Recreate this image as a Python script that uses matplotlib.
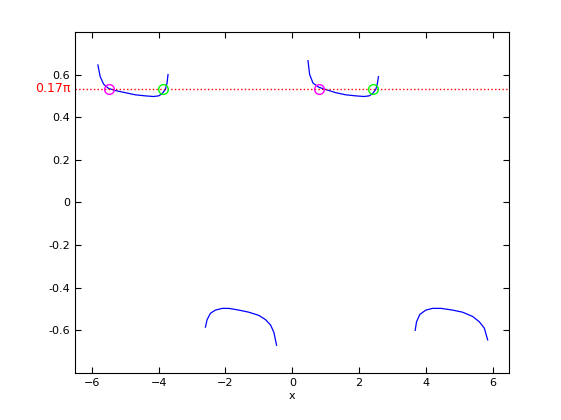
import numpy as np
import matplotlib.pyplot as plt

# curve branches
xa = [-5.82, -5.75, -5.65, -5.5, -5.3, -5.0, -4.7, -4.4, -4.15, -4.0, -3.9, -3.8, -3.75, -3.72]
ya = [0.645, 0.59, 0.555, 0.535, 0.525, 0.515, 0.505, 0.50, 0.497, 0.50, 0.51, 0.53, 0.56, 0.60]
xb = [0.47, 0.52, 0.62, 0.8, 1.0, 1.3, 1.6, 1.9, 2.15, 2.3, 2.4, 2.5, 2.55, 2.58]
yb = [0.665, 0.60, 0.56, 0.54, 0.53, 0.515, 0.505, 0.50, 0.497, 0.50, 0.51, 0.53, 0.56, 0.59]
xc = [-2.6, -2.55, -2.45, -2.3, -2.1, -1.9, -1.6, -1.3, -1.0, -0.8, -0.65, -0.55, -0.47]
yc = [-0.585, -0.55, -0.52, -0.505, -0.497, -0.497, -0.505, -0.515, -0.53, -0.55, -0.575, -0.61, -0.67]
xd = [3.68, 3.72, 3.82, 4.0, 4.2, 4.45, 4.8, 5.1, 5.4, 5.6, 5.75, 5.85]
yd = [-0.60, -0.56, -0.525, -0.505, -0.497, -0.497, -0.505, -0.515, -0.535, -0.56, -0.59, -0.645]

level = 0.17 * np.pi
x_magenta = [-5.48, 0.81]
x_green = [-3.86, 2.43]

fig = plt.figure(figsize=(5.61, 4.2), dpi=100)
ax = fig.add_axes([0.134, 0.112, 0.774, 0.812])

for x, y in [(xa, ya), (xb, yb), (xc, yc), (xd, yd)]:
    ax.plot(x, y, color='blue', lw=0.9)
ax.axhline(level, color='red', ls=':', lw=1)
ax.plot(x_magenta, [level] * 2, 'o', mfc='none', mec='magenta', ms=7)
ax.plot(x_green, [level] * 2, 'o', mfc='none', mec='#00ff00', ms=7)

ax.set_xlim(-6.5, 6.5)
ax.set_ylim(-0.8, 0.8)
ax.set_xticks([-6, -4, -2, 0, 2, 4, 6])
ax.set_yticks([-0.6, -0.4, -0.2, 0, 0.2, 0.4, 0.6])
ax.set_yticklabels(['-0.6', '-0.4', '-0.2', '0', '0.2', '0.4', '0.6'])
ax.text(-6.65, level, '0.17\u03c0', color='red', ha='right', va='center', fontsize=9)
ax.tick_params(labelsize=8, direction='in', top=True, right=True, length=4)
ax.set_xlabel('x', fontsize=8, labelpad=2)

fig.savefig('out.png')
